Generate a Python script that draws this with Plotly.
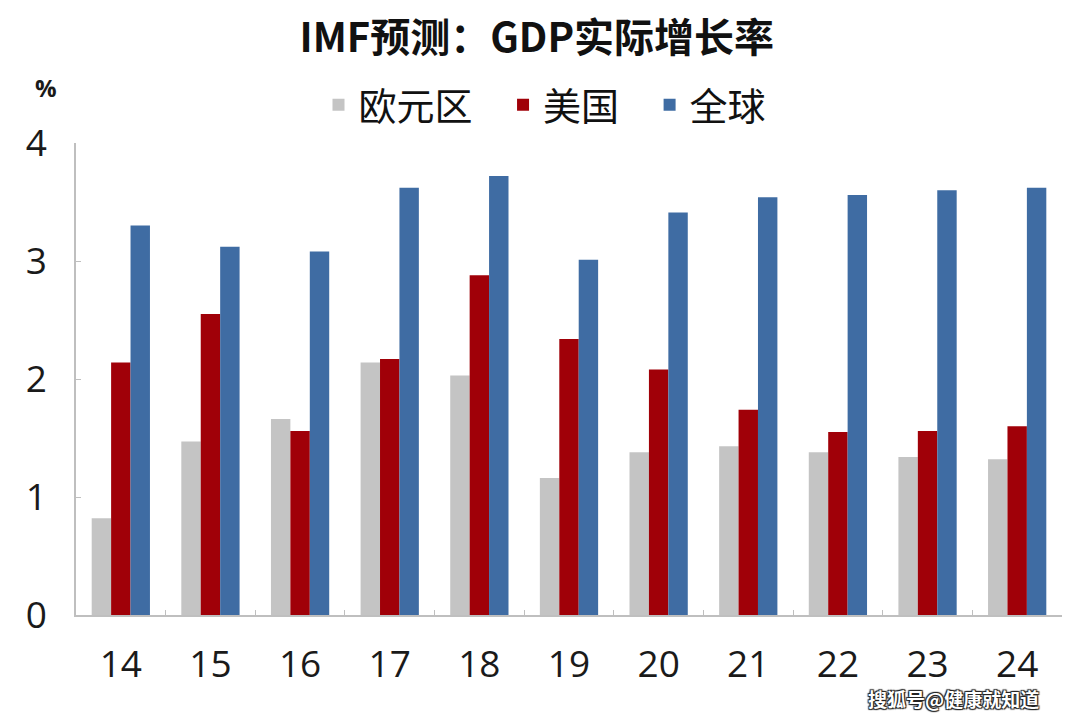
import plotly.graph_objects as go

years = ["14", "15", "16", "17", "18", "19", "20", "21", "22", "23", "24"]
eurozone = [0.82, 1.47, 1.66, 2.14, 2.03, 1.16, 1.38, 1.43, 1.38, 1.34, 1.32]
usa = [2.14, 2.55, 1.56, 2.17, 2.88, 2.34, 2.08, 1.74, 1.55, 1.56, 1.60]
world = [3.30, 3.12, 3.08, 3.62, 3.72, 3.01, 3.41, 3.54, 3.56, 3.60, 3.62]

series_names = ["欧元区", "美国", "全球"]
colors = ["#C4C4C4", "#A00008", "#3F6CA3"]

font_main = "Open Sans, Noto Sans CJK SC, sans-serif"
font_cjk = "Noto Sans CJK SC, sans-serif"

pad = "\u00a0\u00a0\u00a0"
fig = go.Figure()
for i, (name, vals, col) in enumerate(zip(series_names, [eurozone, usa, world], colors)):
    label = name + (pad if i < 2 else "")
    fig.add_trace(go.Bar(x=years, y=vals, name=label, marker=dict(color=col, line=dict(width=0))))

fig.update_layout(
    width=1080, height=713,
    paper_bgcolor="white", plot_bgcolor="white",
    margin=dict(l=76, r=18, t=143, b=98),
    barmode="group", bargap=0.35, bargroupgap=0,
    title=dict(text="<b>IMF预测：GDP实际增长率</b>", x=0.497, xanchor="center",
               y=1 - 38 / 713, yanchor="middle",
               font=dict(family=font_cjk, size=40, color="#111111")),
    legend=dict(orientation="h", x=(545 - 76) / 986, xanchor="center", y=1 + 38 / 472, yanchor="middle",
                font=dict(family=font_cjk, size=38, color="#111111"),
                itemsizing="constant", itemwidth=30, traceorder="normal"),
    showlegend=True,
    xaxis=dict(type="category", showline=True, linecolor="#BFBFBF", linewidth=1.5,
               ticks="inside", tickson="boundaries", ticklen=5, tickcolor="#BFBFBF",
               tickfont=dict(family=font_main, size=37, color="#1a1a1a"),
               ticklabelstandoff=16, showgrid=False),
    yaxis=dict(range=[0, 4], dtick=1, showline=True, linecolor="#BFBFBF", linewidth=1.5,
               ticks="inside", ticklen=5, tickcolor="#BFBFBF", showgrid=False,
               tickfont=dict(family=font_main, size=37, color="#1a1a1a"),
               ticklabelstandoff=20, zeroline=False),
    annotations=[
        dict(text="<b>%</b>", xref="paper", yref="paper", x=-76 / 986 + 46 / 986, y=1 + 55 / 472,
             xanchor="center", yanchor="middle", showarrow=False,
             font=dict(family=font_main, size=24, color="#1a1a1a")),
        dict(text="<b>搜狐号@健康就知道</b>", xref="paper", yref="paper", x=1 + (1040 - 1062) / 986,
             y=-(698 - 615) / 472, xanchor="right", yanchor="middle", showarrow=False, borderpad=0,
             font=dict(family=font_cjk, size=19, color="white",
                       shadow="1px 1px 1px #222, -1px -1px 1px #222, 1px -1px 1px #222, -1px 1px 1px #222")),
    ],
)

fig.write_html("out.html")
